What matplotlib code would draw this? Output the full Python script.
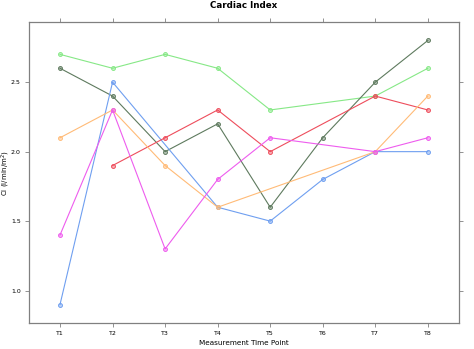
import matplotlib
matplotlib.use("Agg")
import matplotlib.pyplot as plt
import numpy as np

# Cardiac index per subject, NaN where no measurement was taken
timepoints = ["T1", "T2", "T3", "T4", "T5", "T6", "T7", "T8"]
nan = np.nan
ci_green = [2.7, 2.6, 2.7, 2.6, 2.3, nan, 2.4, 2.6]
ci_gray = [2.6, 2.4, 2.0, 2.2, 1.6, 2.1, 2.5, 2.8]
ci_blue = [0.9, 2.5, nan, 1.6, 1.5, 1.8, 2.0, 2.0]
ci_red = [nan, 1.9, 2.1, 2.3, 2.0, nan, 2.4, 2.3]
ci_orange = [2.1, 2.3, 1.9, 1.6, nan, nan, 2.0, 2.4]
ci_magenta = [1.4, 2.3, 1.3, 1.8, 2.1, nan, 2.0, 2.1]

series = [
    (ci_green, "#86e886"),
    (ci_gray, "#5e7a5e"),
    (ci_blue, "#6f9ff0"),
    (ci_red, "#ee4d5c"),
    (ci_orange, "#ffbb77"),
    (ci_magenta, "#ee5cee"),
]

fig = plt.figure(figsize=(4.74, 3.49), dpi=100)
ax = fig.add_axes([0.0612, 0.0745, 0.9068, 0.8625])

x = np.arange(1, len(timepoints) + 1)
for vals, col in series:
    v = np.array(vals, dtype=float)
    ok = ~np.isnan(v)
    # missing points are dropped so the line runs straight past them
    ax.plot(x[ok], v[ok], color=col, lw=0.8, marker="o", ms=2.8,
            mfc=matplotlib.colors.to_rgba(col, 0.45), mec=col, mew=0.7)

ax.set_xlim(0.41, 8.59)
ax.set_ylim(0.767, 2.933)
ax.set_xticks(x)
ax.set_xticklabels(timepoints)
ax.set_yticks([1.0, 1.5, 2.0, 2.5])
ax.set_yticklabels(["1.0", "1.5", "2.0", "2.5"])

for s in ax.spines.values():
    s.set_color("#808080")
    s.set_linewidth(0.9)
ax.tick_params(axis="both", which="both", direction="out", length=3,
               width=0.6, color="#808080", labelsize=4.5, pad=3,
               top=True, right=True, labeltop=False, labelright=False)

ax.set_xlabel("Measurement Time Point", fontsize=5.2, labelpad=3)
ax.set_ylabel("CI (l/min/m$^2$)", fontsize=5.0, va="center")
ax.yaxis.set_label_coords(-0.055, 0.5)
ax.set_title("Cardiac Index", fontsize=6.3, fontweight="bold", pad=10)

fig.savefig("out.png", dpi=100)
